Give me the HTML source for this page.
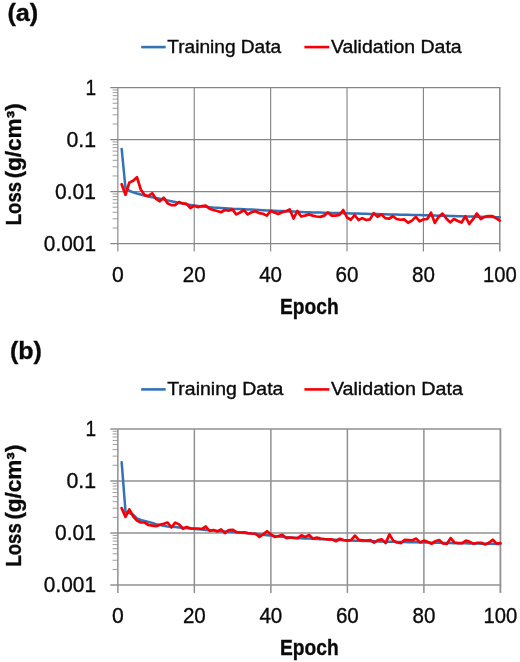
<!DOCTYPE html>
<html lang="en"><head><meta charset="utf-8"><title>Loss curves</title>
<style>html,body{margin:0;padding:0;background:#fff;}body{width:520px;height:662px;overflow:hidden;font-family:"Liberation Sans",sans-serif;}svg{display:block;}</style>
</head><body>
<svg width="520" height="662" viewBox="0 0 520 662" font-family="'Liberation Sans', sans-serif" fill="#0a0a0a">
<rect width="520" height="662" fill="#ffffff"/>
<g>
<line x1="110.3" y1="87.60" x2="500.38" y2="87.60" stroke="#868686" stroke-width="1.15"/>
<line x1="110.3" y1="139.60" x2="500.38" y2="139.60" stroke="#868686" stroke-width="1.15"/>
<line x1="110.3" y1="191.60" x2="500.38" y2="191.60" stroke="#868686" stroke-width="1.15"/>
<line x1="110.3" y1="243.60" x2="500.38" y2="243.60" stroke="#868686" stroke-width="1.15"/>
<line x1="117.85" y1="87.60" x2="117.85" y2="251.40" stroke="#868686" stroke-width="1.15"/>
<line x1="194.24" y1="87.60" x2="194.24" y2="251.40" stroke="#868686" stroke-width="1.15"/>
<line x1="270.63" y1="87.60" x2="270.63" y2="251.40" stroke="#868686" stroke-width="1.15"/>
<line x1="347.02" y1="87.60" x2="347.02" y2="251.40" stroke="#868686" stroke-width="1.15"/>
<line x1="423.41" y1="87.60" x2="423.41" y2="251.40" stroke="#868686" stroke-width="1.15"/>
<line x1="499.80" y1="87.60" x2="499.80" y2="251.40" stroke="#868686" stroke-width="1.45"/>
<line x1="112.6" y1="123.95" x2="117.85" y2="123.95" stroke="#8e8e8e" stroke-width="0.85"/>
<line x1="112.6" y1="114.79" x2="117.85" y2="114.79" stroke="#8e8e8e" stroke-width="0.85"/>
<line x1="112.6" y1="108.29" x2="117.85" y2="108.29" stroke="#8e8e8e" stroke-width="0.85"/>
<line x1="112.6" y1="103.25" x2="117.85" y2="103.25" stroke="#8e8e8e" stroke-width="0.85"/>
<line x1="112.6" y1="99.14" x2="117.85" y2="99.14" stroke="#8e8e8e" stroke-width="0.85"/>
<line x1="112.6" y1="95.65" x2="117.85" y2="95.65" stroke="#8e8e8e" stroke-width="0.85"/>
<line x1="112.6" y1="92.64" x2="117.85" y2="92.64" stroke="#8e8e8e" stroke-width="0.85"/>
<line x1="112.6" y1="89.98" x2="117.85" y2="89.98" stroke="#8e8e8e" stroke-width="0.85"/>
<line x1="112.6" y1="175.95" x2="117.85" y2="175.95" stroke="#8e8e8e" stroke-width="0.85"/>
<line x1="112.6" y1="166.79" x2="117.85" y2="166.79" stroke="#8e8e8e" stroke-width="0.85"/>
<line x1="112.6" y1="160.29" x2="117.85" y2="160.29" stroke="#8e8e8e" stroke-width="0.85"/>
<line x1="112.6" y1="155.25" x2="117.85" y2="155.25" stroke="#8e8e8e" stroke-width="0.85"/>
<line x1="112.6" y1="151.14" x2="117.85" y2="151.14" stroke="#8e8e8e" stroke-width="0.85"/>
<line x1="112.6" y1="147.65" x2="117.85" y2="147.65" stroke="#8e8e8e" stroke-width="0.85"/>
<line x1="112.6" y1="144.64" x2="117.85" y2="144.64" stroke="#8e8e8e" stroke-width="0.85"/>
<line x1="112.6" y1="141.98" x2="117.85" y2="141.98" stroke="#8e8e8e" stroke-width="0.85"/>
<line x1="112.6" y1="227.95" x2="117.85" y2="227.95" stroke="#8e8e8e" stroke-width="0.85"/>
<line x1="112.6" y1="218.79" x2="117.85" y2="218.79" stroke="#8e8e8e" stroke-width="0.85"/>
<line x1="112.6" y1="212.29" x2="117.85" y2="212.29" stroke="#8e8e8e" stroke-width="0.85"/>
<line x1="112.6" y1="207.25" x2="117.85" y2="207.25" stroke="#8e8e8e" stroke-width="0.85"/>
<line x1="112.6" y1="203.14" x2="117.85" y2="203.14" stroke="#8e8e8e" stroke-width="0.85"/>
<line x1="112.6" y1="199.65" x2="117.85" y2="199.65" stroke="#8e8e8e" stroke-width="0.85"/>
<line x1="112.6" y1="196.64" x2="117.85" y2="196.64" stroke="#8e8e8e" stroke-width="0.85"/>
<line x1="112.6" y1="193.98" x2="117.85" y2="193.98" stroke="#8e8e8e" stroke-width="0.85"/>
<polyline fill="none" stroke="#3372b4" stroke-width="2.5" stroke-linejoin="round" stroke-linecap="round" points="121.67,148.90 125.49,188.00 129.31,190.75 133.13,192.40 136.95,193.50 140.77,194.50 144.59,195.60 148.41,196.50 152.23,197.30 156.05,198.00 159.86,198.80 163.68,199.60 167.50,200.40 171.32,201.20 175.14,202.05 178.96,202.90 182.78,203.60 186.60,204.30 190.42,204.95 194.24,205.60 198.06,206.00 201.88,206.40 205.70,206.77 209.52,207.13 213.34,207.50 217.16,207.76 220.98,208.02 224.80,208.28 228.62,208.54 232.44,208.80 236.25,208.96 240.07,209.12 243.89,209.28 247.71,209.44 251.53,209.60 255.35,209.80 259.17,210.00 262.99,210.20 266.81,210.40 270.63,210.60 274.45,210.77 278.27,210.94 282.09,211.11 285.91,211.28 289.73,211.45 293.55,211.62 297.37,211.79 301.19,211.96 305.01,212.13 308.83,212.30 312.64,212.40 316.46,212.50 320.28,212.60 324.10,212.70 327.92,212.80 331.74,212.90 335.56,213.00 339.38,213.10 343.20,213.20 347.02,213.30 350.84,213.40 354.66,213.50 358.48,213.60 362.30,213.70 366.12,213.80 369.94,213.90 373.76,214.00 377.58,214.10 381.40,214.20 385.22,214.30 389.03,214.39 392.85,214.48 396.67,214.57 400.49,214.66 404.31,214.75 408.13,214.84 411.95,214.93 415.77,215.02 419.59,215.11 423.41,215.20 427.23,215.31 431.05,215.42 434.87,215.53 438.69,215.64 442.51,215.75 446.33,215.86 450.15,215.97 453.97,216.08 457.79,216.19 461.61,216.30 465.42,216.40 469.24,216.50 473.06,216.60 476.88,216.70 480.70,216.80 484.52,216.90 488.34,217.00 492.16,217.10 495.98,217.20 499.80,217.30"/>
<polyline fill="none" stroke="#f60008" stroke-width="2.7" stroke-linejoin="round" stroke-linecap="round" points="121.67,184.25 125.49,194.75 129.31,182.60 133.13,180.75 136.95,177.25 140.77,189.50 144.59,195.10 148.41,196.00 152.23,193.25 156.05,198.90 159.86,201.40 163.68,197.60 167.50,203.25 171.32,205.10 175.14,205.10 178.96,202.00 182.78,203.40 186.60,203.80 190.42,208.00 194.24,205.80 198.06,207.25 201.88,206.00 205.70,205.60 209.52,208.75 213.34,210.00 217.16,211.00 220.98,212.25 224.80,210.00 228.62,210.60 232.44,209.40 236.25,214.40 240.07,212.50 243.89,210.00 247.71,214.40 251.53,212.25 255.35,211.25 259.17,213.10 262.99,213.75 266.81,215.60 270.63,211.00 274.45,212.50 278.27,214.00 282.09,212.25 285.91,211.25 289.73,209.40 293.55,218.50 297.37,211.00 301.19,216.50 305.01,215.60 308.83,214.40 312.64,215.60 316.46,216.50 320.28,216.90 324.10,215.60 327.92,212.50 331.74,215.60 335.56,215.60 339.38,215.00 343.20,210.00 347.02,217.50 350.84,219.75 354.66,215.00 358.48,220.00 362.30,218.10 366.12,220.00 369.94,219.40 373.76,213.10 377.58,216.90 381.40,214.40 385.22,218.10 389.03,218.75 392.85,216.25 396.67,219.00 400.49,219.75 404.31,219.40 408.13,222.75 411.95,220.60 415.77,216.90 419.59,221.25 423.41,219.40 427.23,219.00 431.05,212.75 434.87,222.90 438.69,216.70 442.51,213.60 446.33,218.50 450.15,222.40 453.97,219.00 457.79,221.00 461.61,222.50 465.42,216.25 469.24,224.00 473.06,219.20 476.88,213.50 480.70,219.00 484.52,216.90 488.34,216.00 492.16,216.00 495.98,218.10 499.80,220.60"/>
<g stroke="#0a0a0a" stroke-width="0.35">
<text x="96" y="94.80" text-anchor="end" font-size="21.9" textLength="10.6" lengthAdjust="spacingAndGlyphs">1</text>
<text x="96" y="146.80" text-anchor="end" font-size="21.9" textLength="29.6" lengthAdjust="spacingAndGlyphs">0.1</text>
<text x="96" y="198.80" text-anchor="end" font-size="21.9" textLength="40.9" lengthAdjust="spacingAndGlyphs">0.01</text>
<text x="96" y="250.80" text-anchor="end" font-size="21.9" textLength="52.2" lengthAdjust="spacingAndGlyphs">0.001</text>
<text x="117.85" y="281.60" text-anchor="middle" font-size="21.9" textLength="11.8" lengthAdjust="spacingAndGlyphs">0</text>
<text x="194.24" y="281.60" text-anchor="middle" font-size="21.9" textLength="22.9" lengthAdjust="spacingAndGlyphs">20</text>
<text x="270.63" y="281.60" text-anchor="middle" font-size="21.9" textLength="22.9" lengthAdjust="spacingAndGlyphs">40</text>
<text x="347.02" y="281.60" text-anchor="middle" font-size="21.9" textLength="22.9" lengthAdjust="spacingAndGlyphs">60</text>
<text x="423.41" y="281.60" text-anchor="middle" font-size="21.9" textLength="22.9" lengthAdjust="spacingAndGlyphs">80</text>
<text x="499.80" y="281.60" text-anchor="middle" font-size="21.9" textLength="33.8" lengthAdjust="spacingAndGlyphs">100</text>
<text x="167.2" y="52.70" font-size="18.2" textLength="114.0" lengthAdjust="spacingAndGlyphs">Training Data</text>
<text x="330.9" y="52.70" font-size="18.2" textLength="130.8" lengthAdjust="spacingAndGlyphs">Validation Data</text>
<text transform="translate(20.6,0) rotate(-90)" font-weight="bold" font-size="21.6"><tspan x="-225.20" y="0" textLength="43.2" lengthAdjust="spacingAndGlyphs">Loss</tspan><tspan> </tspan><tspan x="-178.50" y="0" textLength="75.2" lengthAdjust="spacingAndGlyphs">(g/cm³)</tspan></text>
<text x="309.35" y="313.60" text-anchor="middle" font-weight="bold" font-size="21.6" textLength="58.6" lengthAdjust="spacingAndGlyphs">Epoch</text>
<text x="7.4" y="21.3" font-weight="bold" font-size="24.0" textLength="30.9" lengthAdjust="spacingAndGlyphs">(a)</text>
</g>
<line x1="141.2" y1="47.10" x2="165.7" y2="47.10" stroke="#3372b4" stroke-width="2.6"/>
<line x1="304.4" y1="47.10" x2="329.3" y2="47.10" stroke="#f60008" stroke-width="2.6"/>
</g>
<g>
<line x1="110.3" y1="428.90" x2="501.15" y2="428.90" stroke="#909090" stroke-width="1.5"/>
<line x1="110.3" y1="480.97" x2="501.15" y2="480.97" stroke="#909090" stroke-width="1.5"/>
<line x1="110.3" y1="533.03" x2="501.15" y2="533.03" stroke="#909090" stroke-width="1.5"/>
<line x1="110.3" y1="585.10" x2="501.15" y2="585.10" stroke="#909090" stroke-width="1.5"/>
<line x1="117.85" y1="428.90" x2="117.85" y2="592.90" stroke="#909090" stroke-width="1.5"/>
<line x1="194.36" y1="428.90" x2="194.36" y2="592.90" stroke="#909090" stroke-width="1.5"/>
<line x1="270.87" y1="428.90" x2="270.87" y2="592.90" stroke="#909090" stroke-width="1.5"/>
<line x1="347.38" y1="428.90" x2="347.38" y2="592.90" stroke="#909090" stroke-width="1.5"/>
<line x1="423.89" y1="428.90" x2="423.89" y2="592.90" stroke="#909090" stroke-width="1.5"/>
<line x1="500.40" y1="428.90" x2="500.40" y2="592.90" stroke="#909090" stroke-width="1.8"/>
<line x1="112.6" y1="465.29" x2="117.85" y2="465.29" stroke="#8e8e8e" stroke-width="0.85"/>
<line x1="112.6" y1="456.12" x2="117.85" y2="456.12" stroke="#8e8e8e" stroke-width="0.85"/>
<line x1="112.6" y1="449.62" x2="117.85" y2="449.62" stroke="#8e8e8e" stroke-width="0.85"/>
<line x1="112.6" y1="444.57" x2="117.85" y2="444.57" stroke="#8e8e8e" stroke-width="0.85"/>
<line x1="112.6" y1="440.45" x2="117.85" y2="440.45" stroke="#8e8e8e" stroke-width="0.85"/>
<line x1="112.6" y1="436.97" x2="117.85" y2="436.97" stroke="#8e8e8e" stroke-width="0.85"/>
<line x1="112.6" y1="433.95" x2="117.85" y2="433.95" stroke="#8e8e8e" stroke-width="0.85"/>
<line x1="112.6" y1="431.28" x2="117.85" y2="431.28" stroke="#8e8e8e" stroke-width="0.85"/>
<line x1="112.6" y1="517.36" x2="117.85" y2="517.36" stroke="#8e8e8e" stroke-width="0.85"/>
<line x1="112.6" y1="508.19" x2="117.85" y2="508.19" stroke="#8e8e8e" stroke-width="0.85"/>
<line x1="112.6" y1="501.69" x2="117.85" y2="501.69" stroke="#8e8e8e" stroke-width="0.85"/>
<line x1="112.6" y1="496.64" x2="117.85" y2="496.64" stroke="#8e8e8e" stroke-width="0.85"/>
<line x1="112.6" y1="492.52" x2="117.85" y2="492.52" stroke="#8e8e8e" stroke-width="0.85"/>
<line x1="112.6" y1="489.03" x2="117.85" y2="489.03" stroke="#8e8e8e" stroke-width="0.85"/>
<line x1="112.6" y1="486.01" x2="117.85" y2="486.01" stroke="#8e8e8e" stroke-width="0.85"/>
<line x1="112.6" y1="483.35" x2="117.85" y2="483.35" stroke="#8e8e8e" stroke-width="0.85"/>
<line x1="112.6" y1="569.43" x2="117.85" y2="569.43" stroke="#8e8e8e" stroke-width="0.85"/>
<line x1="112.6" y1="560.26" x2="117.85" y2="560.26" stroke="#8e8e8e" stroke-width="0.85"/>
<line x1="112.6" y1="553.75" x2="117.85" y2="553.75" stroke="#8e8e8e" stroke-width="0.85"/>
<line x1="112.6" y1="548.71" x2="117.85" y2="548.71" stroke="#8e8e8e" stroke-width="0.85"/>
<line x1="112.6" y1="544.58" x2="117.85" y2="544.58" stroke="#8e8e8e" stroke-width="0.85"/>
<line x1="112.6" y1="541.10" x2="117.85" y2="541.10" stroke="#8e8e8e" stroke-width="0.85"/>
<line x1="112.6" y1="538.08" x2="117.85" y2="538.08" stroke="#8e8e8e" stroke-width="0.85"/>
<line x1="112.6" y1="535.42" x2="117.85" y2="535.42" stroke="#8e8e8e" stroke-width="0.85"/>
<polyline fill="none" stroke="#3372b4" stroke-width="2.5" stroke-linejoin="round" stroke-linecap="round" points="121.68,462.30 125.50,511.50 129.33,513.00 133.15,514.60 136.98,518.30 140.80,520.00 144.63,520.90 148.45,521.90 152.28,523.00 156.10,524.20 159.93,525.00 163.76,525.80 167.58,526.40 171.41,526.70 175.23,527.00 179.06,527.40 182.88,527.80 186.71,528.17 190.53,528.53 194.36,528.90 198.19,529.24 202.01,529.58 205.84,529.92 209.66,530.26 213.49,530.60 217.31,530.88 221.14,531.16 224.96,531.44 228.79,531.72 232.61,532.00 236.44,532.32 240.27,532.64 244.09,532.96 247.92,533.28 251.74,533.60 255.57,534.00 259.39,534.40 263.22,534.80 267.04,535.20 270.87,535.60 274.70,536.00 278.52,536.40 282.35,536.80 286.17,537.20 290.00,537.60 293.82,537.80 297.65,538.00 301.47,538.20 305.30,538.40 309.12,538.60 312.95,538.78 316.78,538.96 320.60,539.14 324.43,539.32 328.25,539.50 332.08,539.68 335.90,539.86 339.73,540.04 343.55,540.22 347.38,540.40 351.21,540.52 355.03,540.64 358.86,540.76 362.68,540.88 366.51,541.00 370.33,541.14 374.16,541.28 377.98,541.42 381.81,541.56 385.63,541.70 389.46,541.78 393.29,541.86 397.11,541.94 400.94,542.02 404.76,542.10 408.59,542.18 412.41,542.26 416.24,542.34 420.06,542.42 423.89,542.50 427.72,542.58 431.54,542.66 435.37,542.74 439.19,542.82 443.02,542.90 446.84,542.98 450.67,543.06 454.49,543.14 458.32,543.22 462.14,543.30 465.97,543.37 469.80,543.44 473.62,543.51 477.45,543.58 481.27,543.65 485.10,543.72 488.92,543.79 492.75,543.86 496.57,543.93 500.40,544.00"/>
<polyline fill="none" stroke="#f60008" stroke-width="2.7" stroke-linejoin="round" stroke-linecap="round" points="121.68,508.10 125.50,516.90 129.33,509.40 133.15,516.25 136.98,520.60 140.80,522.50 144.63,522.50 148.45,525.00 152.28,525.60 156.10,526.25 159.93,524.75 163.76,523.75 167.58,522.50 171.41,527.50 175.23,522.60 179.06,524.40 182.88,528.75 186.71,526.90 190.53,528.50 194.36,528.50 198.19,528.50 202.01,529.00 205.84,526.50 209.66,531.00 213.49,530.00 217.31,531.50 221.14,529.40 224.96,533.10 228.79,530.00 232.61,529.75 236.44,532.20 240.27,532.50 244.09,532.25 247.92,533.10 251.74,533.50 255.57,533.75 259.39,536.90 263.22,534.40 267.04,531.25 270.87,534.40 274.70,536.90 278.52,536.00 282.35,534.75 286.17,538.10 290.00,537.50 293.82,537.90 297.65,538.10 301.47,535.25 305.30,536.90 309.12,535.00 312.95,538.75 316.78,537.50 320.60,538.50 324.43,539.00 328.25,539.40 332.08,539.40 335.90,541.25 339.73,538.75 343.55,540.00 347.38,540.60 351.21,540.00 355.03,535.60 358.86,539.90 362.68,540.25 366.51,540.60 370.33,540.00 374.16,542.75 377.98,540.00 381.81,539.40 385.63,543.10 389.46,534.40 393.29,540.60 397.11,542.50 400.94,543.10 404.76,539.75 408.59,540.00 412.41,540.25 416.24,538.60 420.06,542.40 423.89,540.60 427.72,541.90 431.54,543.75 435.37,541.25 439.19,540.00 443.02,543.50 446.84,544.00 450.67,538.10 454.49,542.50 458.32,543.10 462.14,543.10 465.97,540.60 469.80,541.90 473.62,543.75 477.45,542.75 481.27,542.75 485.10,544.40 488.92,542.75 492.75,539.75 496.57,543.50 500.40,543.10"/>
<g stroke="#0a0a0a" stroke-width="0.35">
<text x="96" y="436.10" text-anchor="end" font-size="21.9" textLength="10.6" lengthAdjust="spacingAndGlyphs">1</text>
<text x="96" y="488.17" text-anchor="end" font-size="21.9" textLength="29.6" lengthAdjust="spacingAndGlyphs">0.1</text>
<text x="96" y="540.23" text-anchor="end" font-size="21.9" textLength="40.9" lengthAdjust="spacingAndGlyphs">0.01</text>
<text x="96" y="592.30" text-anchor="end" font-size="21.9" textLength="52.2" lengthAdjust="spacingAndGlyphs">0.001</text>
<text x="117.85" y="623.10" text-anchor="middle" font-size="21.9" textLength="11.8" lengthAdjust="spacingAndGlyphs">0</text>
<text x="194.36" y="623.10" text-anchor="middle" font-size="21.9" textLength="22.9" lengthAdjust="spacingAndGlyphs">20</text>
<text x="270.87" y="623.10" text-anchor="middle" font-size="21.9" textLength="22.9" lengthAdjust="spacingAndGlyphs">40</text>
<text x="347.38" y="623.10" text-anchor="middle" font-size="21.9" textLength="22.9" lengthAdjust="spacingAndGlyphs">60</text>
<text x="423.89" y="623.10" text-anchor="middle" font-size="21.9" textLength="22.9" lengthAdjust="spacingAndGlyphs">80</text>
<text x="500.40" y="623.10" text-anchor="middle" font-size="21.9" textLength="33.8" lengthAdjust="spacingAndGlyphs">100</text>
<text x="167.2" y="395.00" font-size="18.2" textLength="116.2" lengthAdjust="spacingAndGlyphs">Training Data</text>
<text x="330.9" y="395.00" font-size="18.2" textLength="132.0" lengthAdjust="spacingAndGlyphs">Validation Data</text>
<text transform="translate(20.6,0) rotate(-90)" font-weight="bold" font-size="21.6"><tspan x="-566.50" y="0" textLength="43.2" lengthAdjust="spacingAndGlyphs">Loss</tspan><tspan> </tspan><tspan x="-519.80" y="0" textLength="75.2" lengthAdjust="spacingAndGlyphs">(g/cm³)</tspan></text>
<text x="309.35" y="655.10" text-anchor="middle" font-weight="bold" font-size="21.6" textLength="58.6" lengthAdjust="spacingAndGlyphs">Epoch</text>
<text x="9.9" y="358.6" font-weight="bold" font-size="24.8" textLength="32.0" lengthAdjust="spacingAndGlyphs">(b)</text>
</g>
<line x1="141.2" y1="389.40" x2="165.7" y2="389.40" stroke="#3372b4" stroke-width="2.6"/>
<line x1="304.4" y1="389.40" x2="329.3" y2="389.40" stroke="#f60008" stroke-width="2.6"/>
</g>
</svg>
</body></html>
